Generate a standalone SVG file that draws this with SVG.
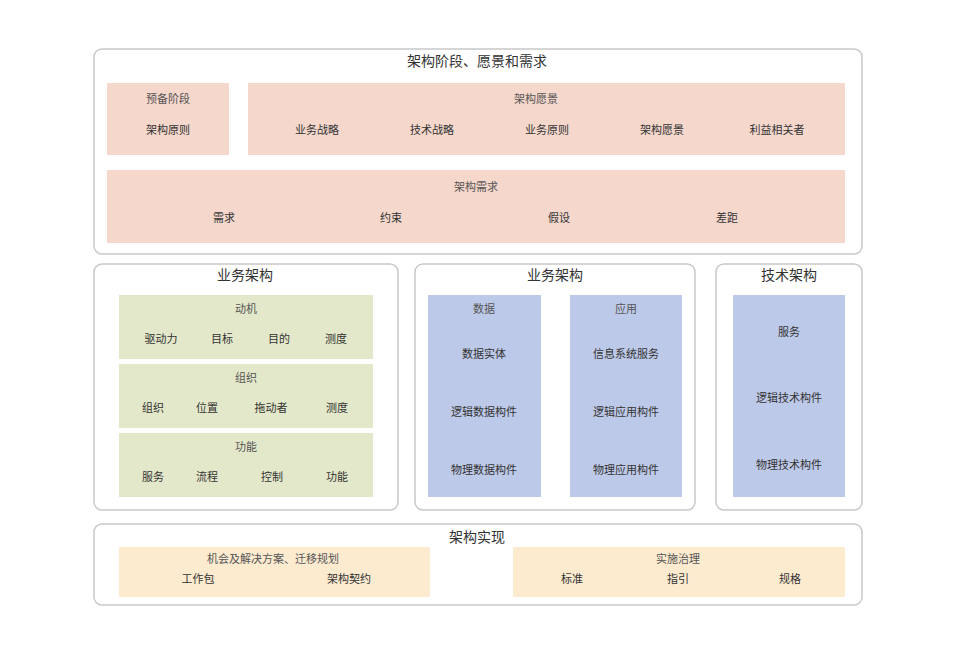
<svg xmlns="http://www.w3.org/2000/svg" width="970" height="647" viewBox="0 0 970 647">
<style>
text{font-family:"Liberation Sans","Noto Sans CJK SC",sans-serif;text-anchor:middle;dominant-baseline:central}
.frame{fill:#fff;stroke:#c8c8c8;stroke-width:1.5}
.t{font-size:14px;fill:#333}
.s{font-size:11px;fill:#555}
.i{font-size:11px;fill:#333}
.pink{fill:#f5d7cc}
.green{fill:#e3e8ca}
.blue{fill:#bdc9e8}
.yel{fill:#fdebd0}
</style>
<rect width="970" height="647" fill="#fff"/>
<g id="phase">
<rect class="frame" x="94" y="49" width="768" height="205" rx="8"/>
<text class="t" x="477" y="61">架构阶段、愿景和需求</text>
</g>
<g id="prelim">
<rect class="pink" x="107" y="83" width="122" height="72"/>
<text class="s" x="168" y="99">预备阶段</text>
<text class="i" x="168" y="130">架构原则</text>
</g>
<g id="vision">
<rect class="pink" x="248" y="83" width="597" height="72"/>
<text class="s" x="536" y="99">架构愿景</text>
<text class="i" x="317" y="130">业务战略</text>
<text class="i" x="432" y="130">技术战略</text>
<text class="i" x="547" y="130">业务原则</text>
<text class="i" x="662" y="130">架构愿景</text>
<text class="i" x="777" y="130">利益相关者</text>
</g>
<g id="requirements">
<rect class="pink" x="107" y="170" width="738" height="73"/>
<text class="s" x="476" y="187">架构需求</text>
<text class="i" x="224" y="218">需求</text>
<text class="i" x="391" y="218">约束</text>
<text class="i" x="559" y="218">假设</text>
<text class="i" x="727" y="218">差距</text>
</g>
<g id="business">
<rect class="frame" x="94" y="264" width="304" height="246" rx="8"/>
<text class="t" x="245" y="275">业务架构</text>
</g>
<g id="motivation">
<rect class="green" x="119" y="295" width="254" height="64"/>
<text class="s" x="246" y="309">动机</text>
<text class="i" x="161" y="339">驱动力</text>
<text class="i" x="222" y="339">目标</text>
<text class="i" x="279" y="339">目的</text>
<text class="i" x="336" y="339">测度</text>
</g>
<g id="organization">
<rect class="green" x="119" y="364" width="254" height="64"/>
<text class="s" x="246" y="378">组织</text>
<text class="i" x="153" y="408">组织</text>
<text class="i" x="207" y="408">位置</text>
<text class="i" x="271" y="408">拖动者</text>
<text class="i" x="337" y="408">测度</text>
</g>
<g id="function">
<rect class="green" x="119" y="433" width="254" height="64"/>
<text class="s" x="246" y="447">功能</text>
<text class="i" x="153" y="477">服务</text>
<text class="i" x="207" y="477">流程</text>
<text class="i" x="272" y="477">控制</text>
<text class="i" x="337" y="477">功能</text>
</g>
<g id="business2">
<rect class="frame" x="415" y="264" width="280" height="246" rx="8"/>
<text class="t" x="555" y="275">业务架构</text>
</g>
<g id="data">
<rect class="blue" x="428" y="295" width="113" height="202"/>
<text class="s" x="484" y="309">数据</text>
<text class="i" x="484" y="354">数据实体</text>
<text class="i" x="484" y="412">逻辑数据构件</text>
<text class="i" x="484" y="470">物理数据构件</text>
</g>
<g id="application">
<rect class="blue" x="570" y="295" width="112" height="202"/>
<text class="s" x="626" y="309">应用</text>
<text class="i" x="626" y="354">信息系统服务</text>
<text class="i" x="626" y="412">逻辑应用构件</text>
<text class="i" x="626" y="470">物理应用构件</text>
</g>
<g id="technology">
<rect class="frame" x="716" y="264" width="146" height="246" rx="8"/>
<text class="t" x="789" y="275">技术架构</text>
<rect class="blue" x="733" y="295" width="112" height="202"/>
<text class="i" x="789" y="332">服务</text>
<text class="i" x="789" y="398">逻辑技术构件</text>
<text class="i" x="789" y="465">物理技术构件</text>
</g>
<g id="realization">
<rect class="frame" x="94" y="524" width="768" height="81" rx="8"/>
<text class="t" x="477" y="537">架构实现</text>
</g>
<g id="opportunities">
<rect class="yel" x="119" y="547" width="311" height="50"/>
<text class="s" x="273" y="559">机会及解决方案、迁移规划</text>
<text class="i" x="198" y="579">工作包</text>
<text class="i" x="349" y="579">架构契约</text>
</g>
<g id="governance">
<rect class="yel" x="513" y="547" width="332" height="50"/>
<text class="s" x="678" y="559">实施治理</text>
<text class="i" x="572" y="579">标准</text>
<text class="i" x="678" y="579">指引</text>
<text class="i" x="790" y="579">规格</text>
</g>
<g id="connectors"></g>
</svg>
